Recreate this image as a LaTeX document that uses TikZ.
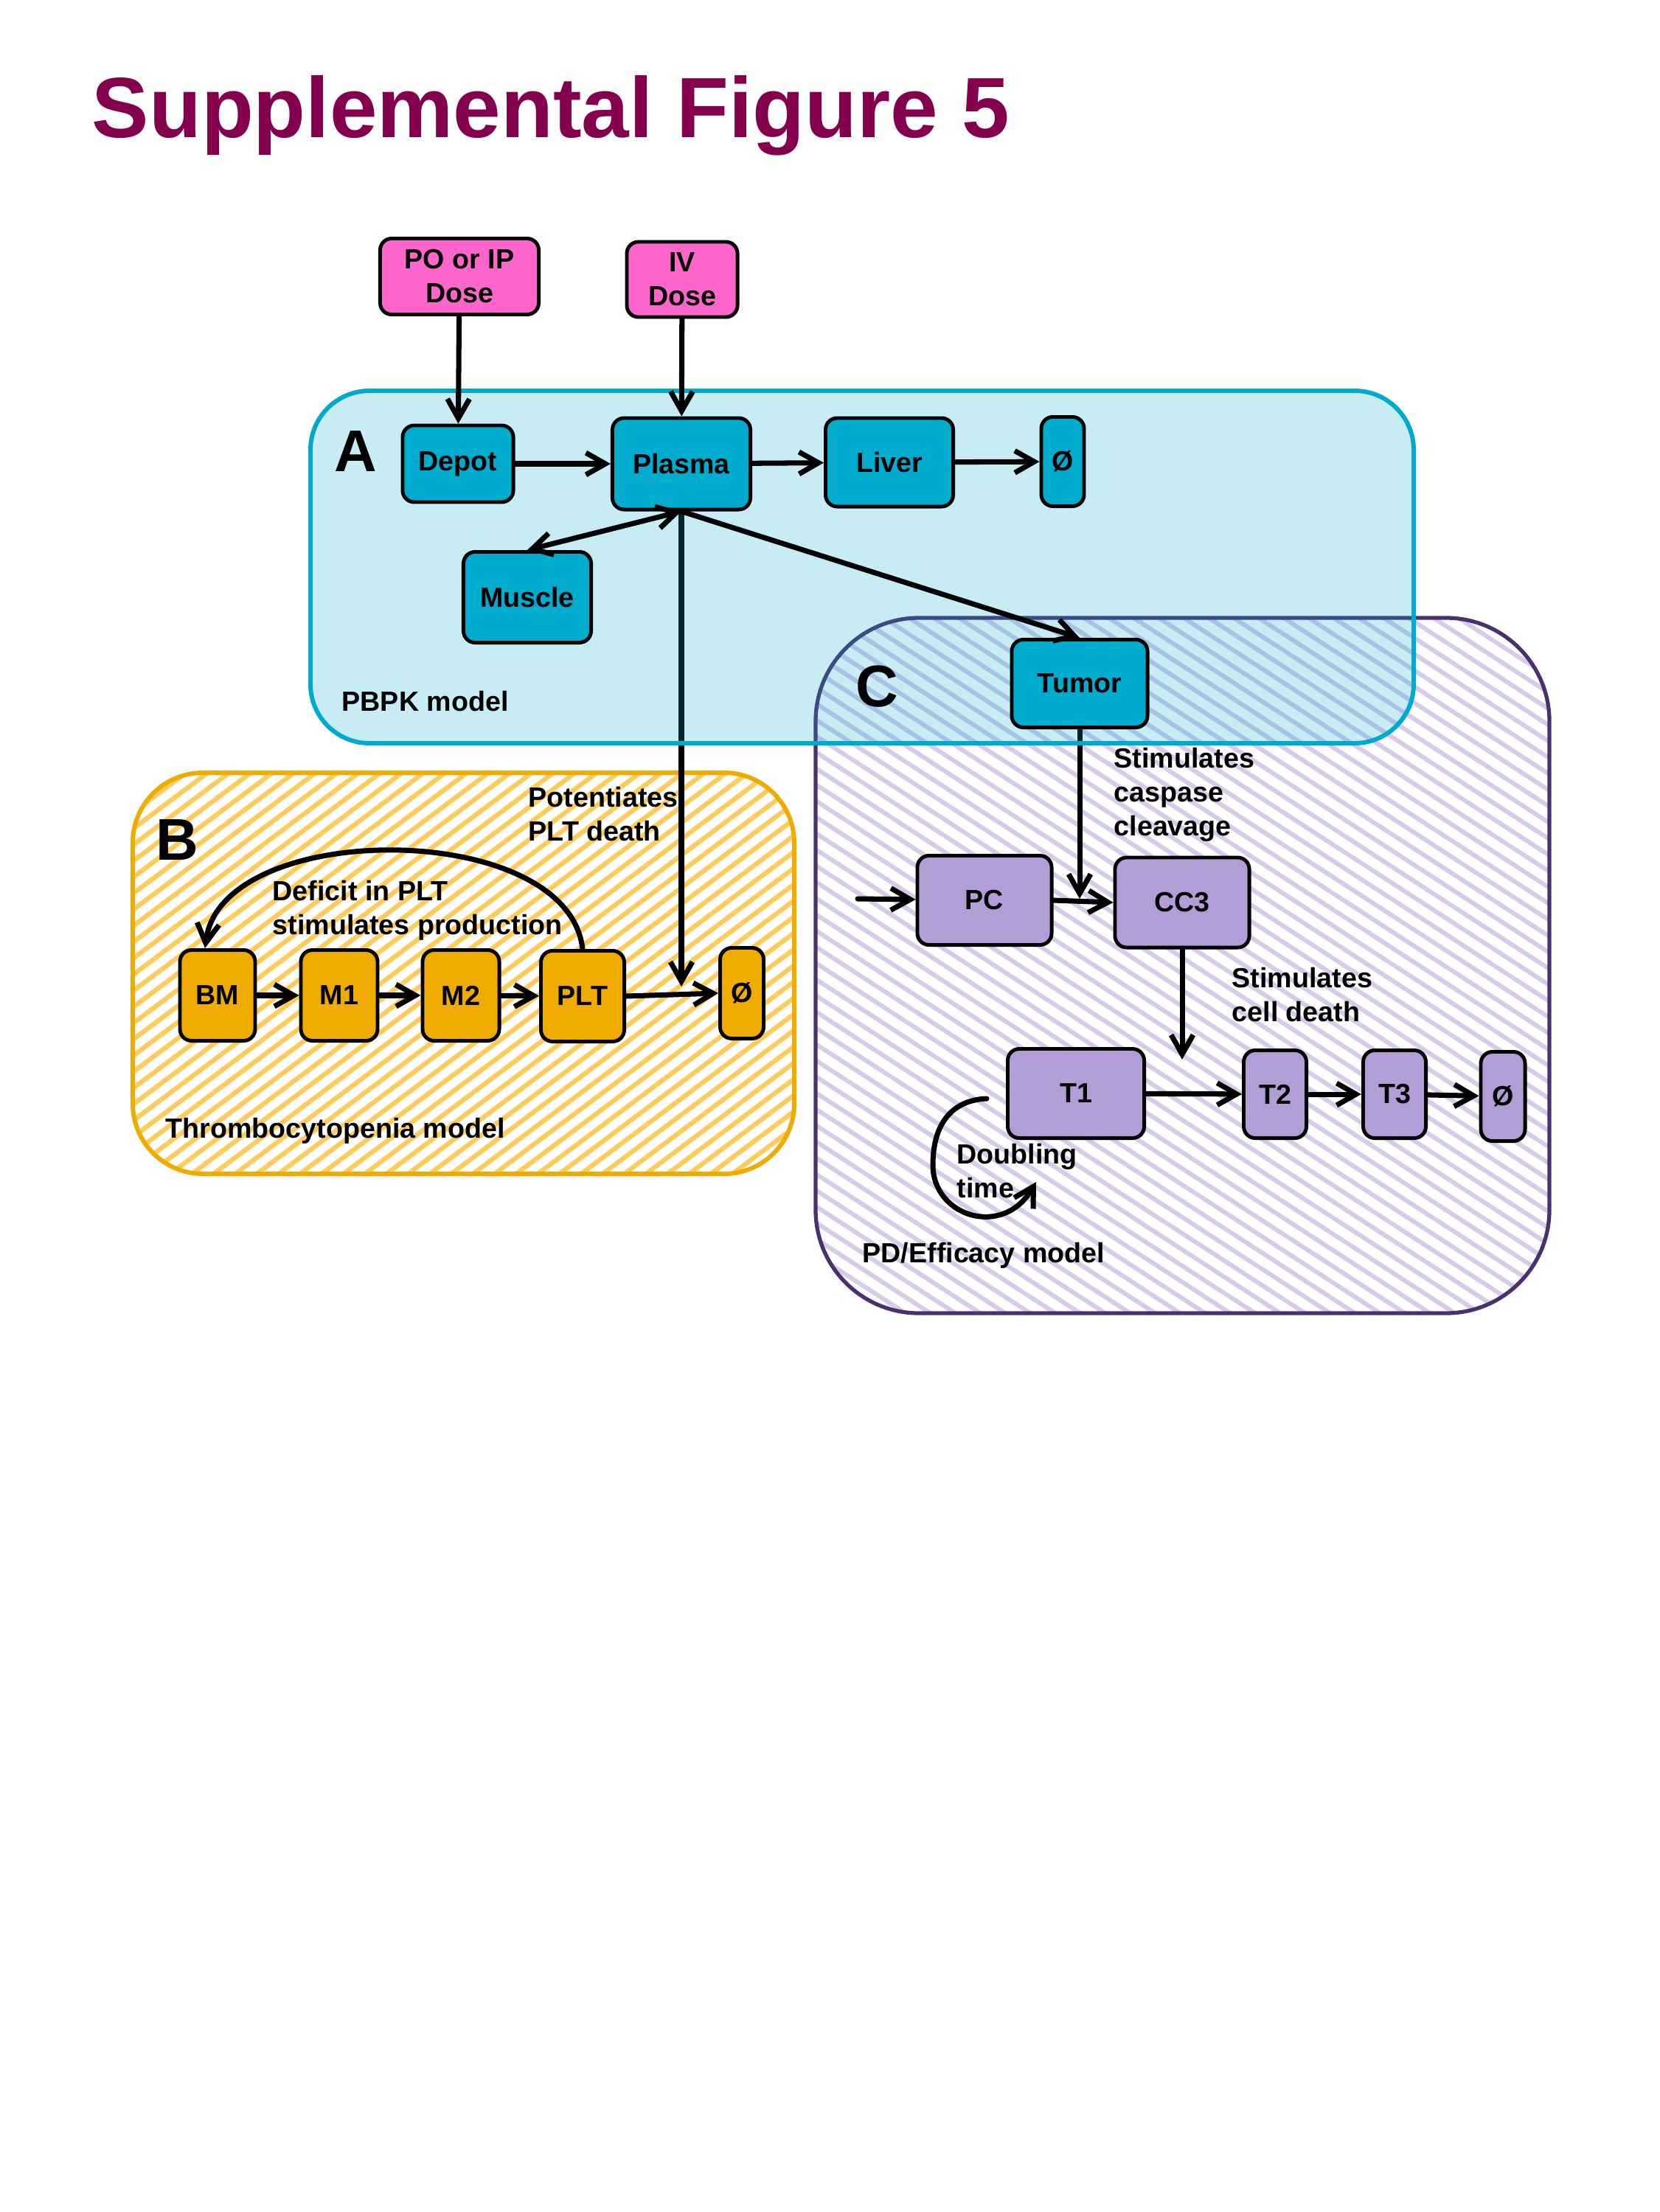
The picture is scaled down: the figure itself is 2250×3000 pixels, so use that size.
\documentclass[tikz,border=0pt]{standalone}
\usepackage{fontspec}
\setmainfont{Liberation Sans}
\usetikzlibrary{arrows.meta}
\definecolor{titlec}{RGB}{132,0,79}
\definecolor{pinkc}{RGB}{255,102,204}
\definecolor{cyanc}{RGB}{0,172,206}
\definecolor{abord}{RGB}{0,169,206}
\definecolor{orangec}{RGB}{240,171,0}
\definecolor{ostripe}{RGB}{255,204,92}
\definecolor{lavc}{RGB}{179,157,214}
\definecolor{pstripe}{RGB}{216,203,234}
\definecolor{cbord}{RGB}{75,48,110}
\newcommand\labfont{\fontsize{10.7}{13.1}\selectfont\bfseries}
\newcommand\bigfont{\fontsize{22.7}{27}\selectfont\bfseries}
\pgfdeclarelayer{back}
\pgfdeclarelayer{under}
\pgfdeclarelayer{veil}
\pgfsetlayers{back,under,veil,main}
\begin{document}
\begin{tikzpicture}[x=0.01cm,y=-0.01cm,
  box/.style={draw=black, line width=1.4pt, rounded corners=4.5pt, inner sep=0pt, align=center, font=\labfont},
  cy/.style={box, fill=cyanc},
  pk/.style={box, fill=pinkc},
  og/.style={box, fill=orangec},
  lv/.style={box, fill=lavc},
  arr/.style={-{Straight Barb[length=7.5pt,width=8.5pt]}, line width=2pt, line cap=round},
  darr/.style={{Straight Barb[length=7.5pt,width=8.5pt]}-{Straight Barb[length=7.5pt,width=8.5pt]}, line width=2pt, line cap=round},
  lbl/.style={font=\labfont, inner sep=0pt, align=left, anchor=west},
  big/.style={font=\bigfont, inner sep=0pt}
]
\useasboundingbox (0,0) rectangle (2250,3000);

% title
\node[anchor=base west, inner sep=0pt, text=titlec, font=\fontsize{33}{40}\selectfont\bfseries] (title) at (124,186) {Supplemental Figure 5};

% ---------- background boxes ----------
\begin{pgfonlayer}{back}
  \begin{scope}
    \clip[rounded corners=1.4cm] (1106,838) rectangle (2101,1781);
    \foreach \c in {180,202,...,1800} \draw[pstripe, line width=1.7pt] (1100,\c) -- (2110,\c+656);
  \end{scope}
  \draw[cbord, line width=1.5pt, rounded corners=1.4cm] (1106,838) rectangle (2101,1781);
  \begin{scope}
    \clip[rounded corners=0.95cm] (180,1048) rectangle (1077,1592);
    \foreach \c in {1040,1062,...,2300} \draw[ostripe, line width=1.8pt] (175,\c) -- (1085,\c-683);
  \end{scope}
  \draw[orangec, line width=1.7pt, rounded corners=0.95cm] (180,1048) rectangle (1077,1592);
\end{pgfonlayer}
\begin{pgfonlayer}{veil}
  \fill[abord, opacity=0.22, rounded corners=0.8cm] (421,530) rectangle (1917,1008);
  \draw[abord, line width=1.7pt, rounded corners=0.8cm] (421,530) rectangle (1917,1008);
\end{pgfonlayer}

% ---------- A: PBPK ----------
\node[pk, minimum width=2.15cm, minimum height=1.03cm] (podose) at (623,375) {PO or IP\\Dose};
\node[pk, minimum width=1.50cm, minimum height=1.02cm] (ivdose) at (925,379) {IV\\Dose};
\node[cy, minimum width=1.50cm, minimum height=1.04cm] (depot) at (621,629) {Depot};
\node[cy, minimum width=1.87cm, minimum height=1.24cm] (plasma) at (924,629) {Plasma};
\node[cy, minimum width=1.73cm, minimum height=1.20cm] (liver) at (1206,627) {Liver};
\node[cy, minimum width=0.58cm, minimum height=1.21cm] (nulla) at (1441,626) {Ø};
\node[cy, minimum width=1.73cm, minimum height=1.23cm] (muscle) at (715,810) {Muscle};
\node[cy, minimum width=1.84cm, minimum height=1.19cm] (tumor) at (1464,927) {Tumor};
\node[big] (la) at (482,612) {A};
\node[lbl] (pbpk) at (463,951) {PBPK model};

\draw[arr] (podose) -- (depot);
\draw[arr] (ivdose) -- (plasma);
\draw[arr] (depot) -- (plasma);
\draw[arr] (plasma) -- (liver);
\draw[arr] (liver) -- (nulla);
\draw[darr] (muscle.north) -- (plasma.south);
\draw[arr] (plasma.south) -- (tumor.north);

% ---------- B: Thrombocytopenia ----------
\node[og, minimum width=1.02cm, minimum height=1.23cm] (bm) at (295,1350) {BM};
\node[og, minimum width=1.04cm, minimum height=1.23cm] (m1) at (460,1350) {M1};
\node[og, minimum width=1.04cm, minimum height=1.23cm] (m2) at (625,1350) {M2};
\node[og, minimum width=1.13cm, minimum height=1.23cm] (plt) at (790,1351) {PLT};
\node[og, minimum width=0.59cm, minimum height=1.23cm] (nullb) at (1006,1347) {Ø};
\node[big] (lb) at (240,1139) {B};
\node[lbl] (pot) at (716,1104) {Potentiates\\PLT death};
\node[lbl] (def) at (369,1235) {Deficit in PLT\\stimulates production};
\node[lbl] (thr) at (224,1534) {Thrombocytopenia model};
\coordinate (pltd) at (926,1338);

\draw[arr] (bm) -- (m1);
\draw[arr] (m1) -- (m2);
\draw[arr] (m2) -- (plt);
\draw[arr] (plt.east) -- (nullb.west);
\draw[arr] (plt.north) .. controls (770,1110) and (300,1110) .. ([xshift=-0.17cm]bm.north);

% ---------- C: PD / Efficacy ----------
\node[lv, minimum width=1.82cm, minimum height=1.21cm] (pc) at (1335,1221) {PC};
\node[lv, minimum width=1.82cm, minimum height=1.22cm] (cc3) at (1603,1224) {CC3};
\node[lv, minimum width=1.85cm, minimum height=1.21cm] (t1) at (1459,1483) {T1};
\node[lv, minimum width=0.85cm, minimum height=1.19cm] (t2) at (1729,1484) {T2};
\node[lv, minimum width=0.85cm, minimum height=1.19cm] (t3) at (1891,1484) {T3};
\node[lv, minimum width=0.60cm, minimum height=1.21cm] (nullc) at (2038,1487) {Ø};
\node[big] (lc) at (1189,931) {C};
\node[lbl] (stc) at (1510,1078) {Stimulates\\caspase\\cleavage};
\node[lbl] (std) at (1670,1349) {Stimulates\\cell death};
\node[lbl] (dbl) at (1297,1588) {Doubling\\time};
\node[lbl] (pde) at (1169,1703) {PD/Efficacy model};
\coordinate (pcin) at (1163,1219);
\coordinate (ccd) at (1468,1219);
\coordinate (tdd) at (1603,1437);
\coordinate (dts) at (1338,1490);
\coordinate (dtm) at (1265,1580);
\coordinate (dte) at (1405,1603);

\draw[arr] (pcin) -- (pc);
\draw[arr] (pc.east) -- (cc3.west);
\draw[arr] (cc3.south) -- (tdd);
\draw[arr] (t1) -- (t2);
\draw[arr] (t2) -- (t3);
\draw[arr] (t3) -- (nullc);
\draw[arr] (dts) .. controls (1290,1492) and (1265,1525) .. (dtm) .. controls (1265,1650) and (1360,1680) .. (dte);

% lines that pass under the translucent PBPK box
\begin{pgfonlayer}{under}
  \draw[arr] (plasma.south) -- (plasma.south |- pltd);
  \draw[arr] (tumor.south) -- (tumor.south |- ccd);
\end{pgfonlayer}
\end{tikzpicture}
\end{document}
